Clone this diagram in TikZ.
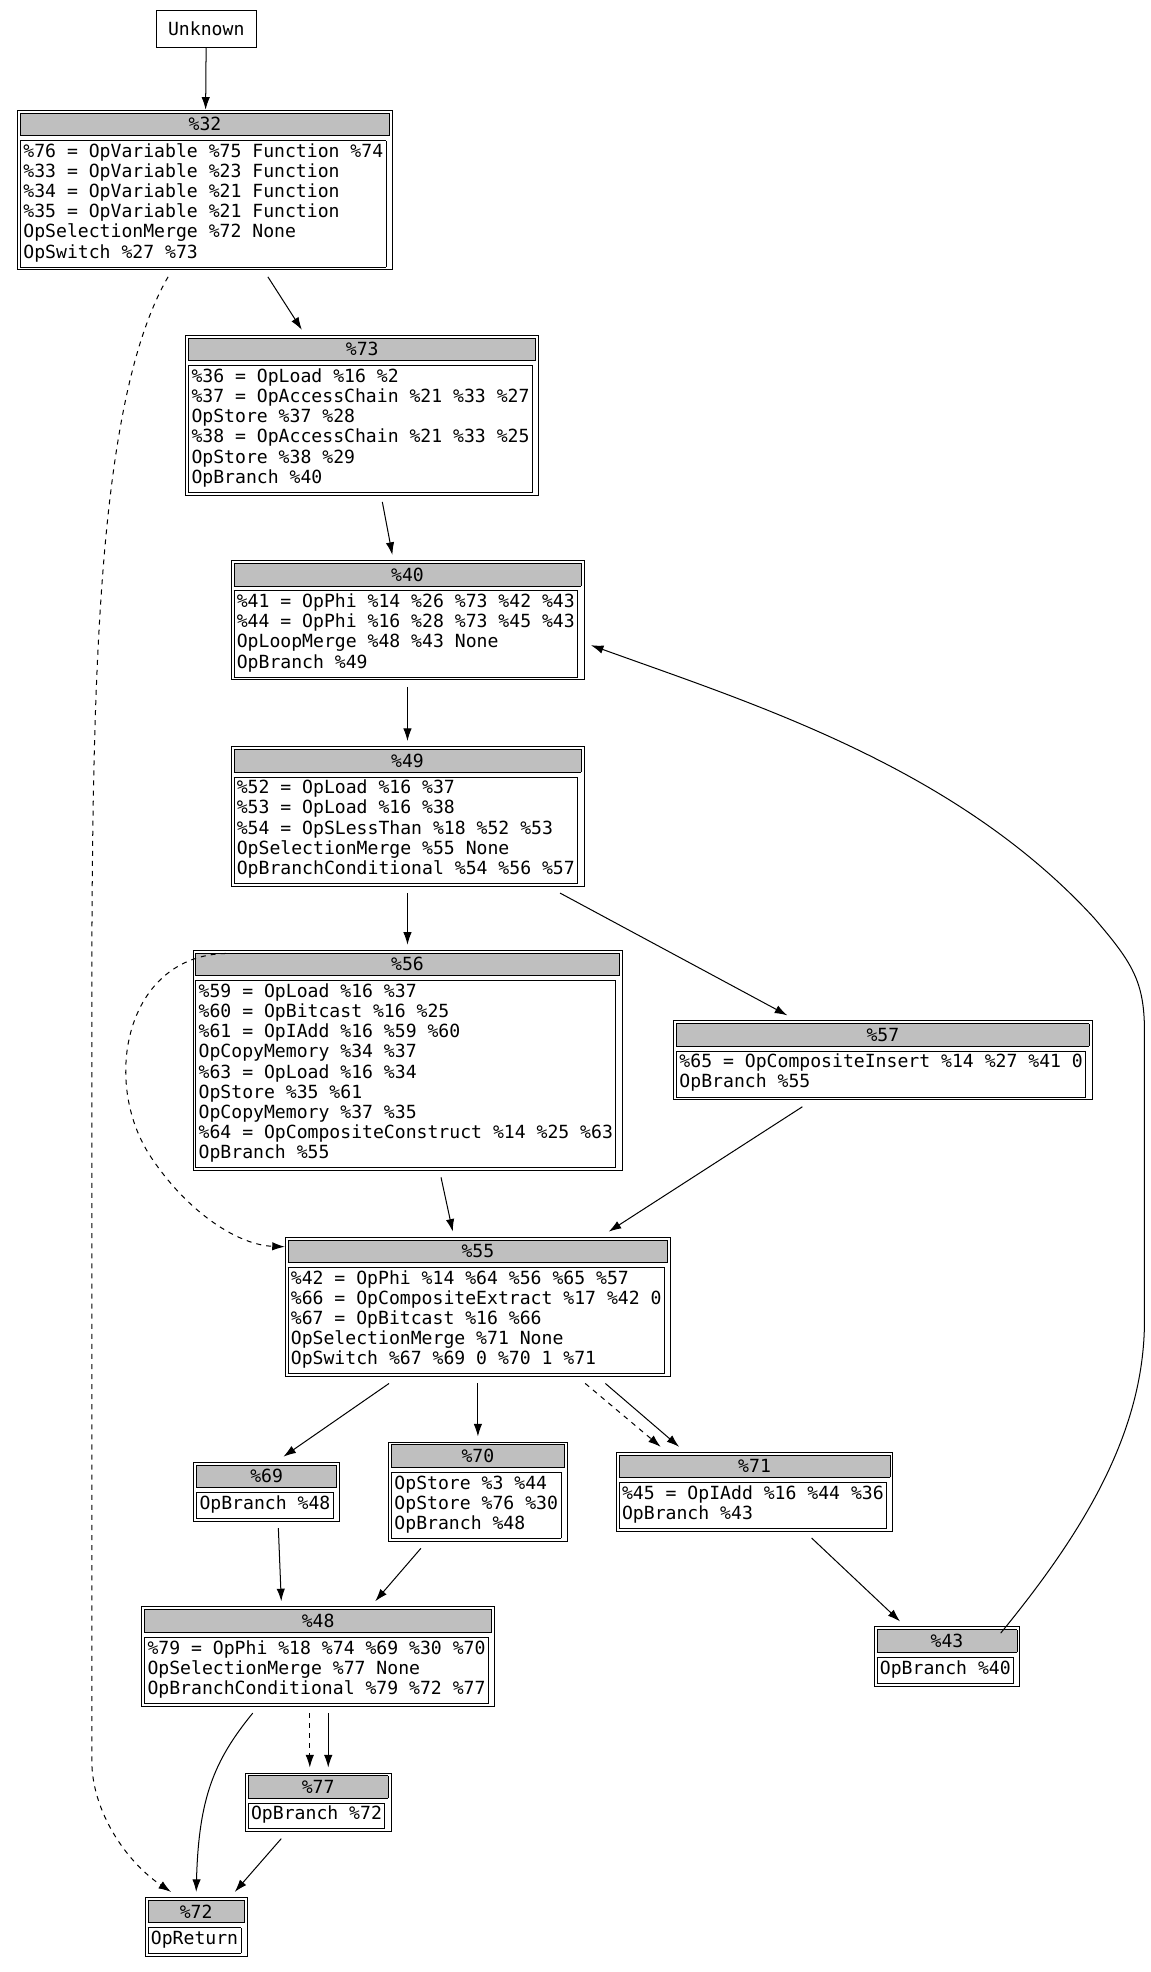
\documentclass[tikz,border=0pt]{standalone}
\usepackage{fontspec}
\setmonofont{DejaVu Sans Mono}
\usetikzlibrary{arrows.meta}
\definecolor{hdrgray}{gray}{0.75}
\newsavebox\linesbox
\newcommand\cfgblk[2]{\sbox\linesbox{\begin{tabular}{@{}l@{}}#2\end{tabular}}%
\vbox{\setlength\fboxsep{2.5pt}\hbox{\fcolorbox{black}{hdrgray}{\makebox[\wd\linesbox]{#1}}}%
\vskip1.5pt\hbox{\setlength\fboxsep{1.5pt}\fbox{\usebox\linesbox}}}}
\tikzset{
  blk/.style={draw, inner sep=1.5pt, font=\fontsize{10.8}{12}\selectfont\ttfamily},
  edge/.style={-{Latex[length=7.5pt,width=5pt]}, line width=0.6pt},
  dedge/.style={edge, dashed}
}
\begin{document}
\begin{tikzpicture}[x=0.75pt, y=-0.75pt]
\useasboundingbox (0,0) rectangle (915,1568);
\node[draw, inner sep=7pt, font=\fontsize{10.8}{12}\selectfont\ttfamily] (unk) at (164,23) {Unknown};
\node[blk] (n32) at (163,151) {\cfgblk{\%32}{\%76 = OpVariable \%75 Function \%74\\ \%33 = OpVariable \%23 Function\\ \%34 = OpVariable \%21 Function\\ \%35 = OpVariable \%21 Function\\ OpSelectionMerge \%72 None\\ OpSwitch \%27 \%73}};
\node[blk] (n73) at (288,330) {\cfgblk{\%73}{\%36 = OpLoad \%16 \%2\\ \%37 = OpAccessChain \%21 \%33 \%27\\ OpStore \%37 \%28\\ \%38 = OpAccessChain \%21 \%33 \%25\\ OpStore \%38 \%29\\ OpBranch \%40}};
\node[blk] (n40) at (324,493) {\cfgblk{\%40}{\%41 = OpPhi \%14 \%26 \%73 \%42 \%43\\ \%44 = OpPhi \%16 \%28 \%73 \%45 \%43\\ OpLoopMerge \%48 \%43 None\\ OpBranch \%49}};
\node[blk] (n49) at (324,649) {\cfgblk{\%49}{\%52 = OpLoad \%16 \%37\\ \%53 = OpLoad \%16 \%38\\ \%54 = OpSLessThan \%18 \%52 \%53\\ OpSelectionMerge \%55 None\\ OpBranchConditional \%54 \%56 \%57}};
\node[blk] (n56) at (324,843) {\cfgblk{\%56}{\%59 = OpLoad \%16 \%37\\ \%60 = OpBitcast \%16 \%25\\ \%61 = OpIAdd \%16 \%59 \%60\\ OpCopyMemory \%34 \%37\\ \%63 = OpLoad \%16 \%34\\ OpStore \%35 \%61\\ OpCopyMemory \%37 \%35\\ \%64 = OpCompositeConstruct \%14 \%25 \%63\\ OpBranch \%55}};
\node[blk] (n57) at (702,843) {\cfgblk{\%57}{\%65 = OpCompositeInsert \%14 \%27 \%41 0\\ OpBranch \%55}};
\node[blk] (n55) at (380,1039) {\cfgblk{\%55}{\%42 = OpPhi \%14 \%64 \%56 \%65 \%57\\ \%66 = OpCompositeExtract \%17 \%42 0\\ \%67 = OpBitcast \%16 \%66\\ OpSelectionMerge \%71 None\\ OpSwitch \%67 \%69 0 \%70 1 \%71}};
\node[blk] (n69) at (212,1186) {\cfgblk{\%69}{OpBranch \%48}};
\node[blk] (n70) at (380,1186) {\cfgblk{\%70}{OpStore \%3 \%44\\ OpStore \%76 \%30\\ OpBranch \%48}};
\node[blk] (n71) at (600,1186) {\cfgblk{\%71}{\%45 = OpIAdd \%16 \%44 \%36\\ OpBranch \%43}};
\node[blk] (n43) at (753,1317) {\cfgblk{\%43}{OpBranch \%40}};
\node[blk] (n48) at (253,1317) {\cfgblk{\%48}{\%79 = OpPhi \%18 \%74 \%69 \%30 \%70\\ OpSelectionMerge \%77 None\\ OpBranchConditional \%79 \%72 \%77}};
\node[blk] (n77) at (253,1433) {\cfgblk{\%77}{OpBranch \%72}};
\node[blk] (n72) at (156,1532) {\cfgblk{\%72}{OpReturn}};
% connectors
\draw[edge] (unk) -- (n32);
\draw[edge] ([xshift=37.5pt,yshift=-4pt]n32.south) -- ([xshift=-36pt,yshift=3pt]n73.north);
\draw[dedge] ([xshift=-22pt,yshift=-4pt]n32.south) .. controls (70,330) and (73,600) .. (73,900)
  -- (73,1400) .. controls (73,1440) and (100,1480) .. ([xshift=-15pt,yshift=3pt]n72.north);
\draw[edge] ([xshift=12pt,yshift=-4pt]n73.south) -- ([xshift=-9pt,yshift=3pt]n40.north);
\draw[edge] ([yshift=-4pt]n40.south) -- ([yshift=3pt]n49.north);
\draw[edge] ([yshift=-4pt]n49.south) -- ([yshift=3pt]n56.north);
\draw[edge] ([xshift=91pt,yshift=-4pt]n49.south) -- ([xshift=-57pt,yshift=3pt]n57.north);
\draw[dedge] ([xshift=-3pt,yshift=-40pt]n49.south west) .. controls (100,760) and (80,860) .. (120,920)
  .. controls (150,965) and (190,990) .. ([yshift=-6pt]n55.north west);
\draw[edge] ([xshift=20pt,yshift=-4pt]n56.south) -- ([xshift=-15pt,yshift=3pt]n55.north);
\draw[edge] ([xshift=-48pt,yshift=-4pt]n57.south) -- ([xshift=78pt,yshift=3pt]n55.north);
\draw[edge] ([xshift=-53pt,yshift=-4pt]n55.south) -- ([xshift=10pt,yshift=3pt]n69.north);
\draw[edge] ([yshift=-4pt]n55.south) -- ([yshift=3pt]n70.north);
\draw[dedge] ([xshift=64pt,yshift=-4pt]n55.south) -- ([xshift=-56pt,yshift=3pt]n71.north);
\draw[edge] ([xshift=76pt,yshift=-4pt]n55.south) -- ([xshift=-45pt,yshift=3pt]n71.north);
\draw[edge] ([xshift=34pt,yshift=-4pt]n71.south) -- ([xshift=-28pt,yshift=3pt]n43.north);
\draw[edge] ([xshift=32pt,yshift=-4pt]n43.north) .. controls (860,1220) and (910,1140) .. (910,1050)
  -- (910,820) .. controls (910,780) and (900,765) .. (870,730)
  .. controls (760,610) and (600,560) .. ([xshift=4pt,yshift=-15pt]n40.east);
\draw[edge] ([xshift=7pt,yshift=-4pt]n69.south) -- ([xshift=-22pt,yshift=3pt]n48.north);
\draw[edge] ([xshift=-34pt,yshift=-4pt]n70.south) -- ([xshift=34pt,yshift=3pt]n48.north);
\draw[edge] ([xshift=-39pt,yshift=-4pt]n48.south) .. controls (170,1400) and (158,1430) .. ([yshift=3pt]n72.north);
\draw[dedge] ([xshift=-5pt,yshift=-4pt]n48.south) -- ([xshift=-5pt,yshift=3pt]n77.north);
\draw[edge] ([xshift=6pt,yshift=-4pt]n48.south) -- ([xshift=6pt,yshift=3pt]n77.north);
\draw[edge] ([xshift=-22pt,yshift=-4pt]n77.south) -- ([xshift=23pt,yshift=3pt]n72.north);
\end{tikzpicture}
\end{document}
